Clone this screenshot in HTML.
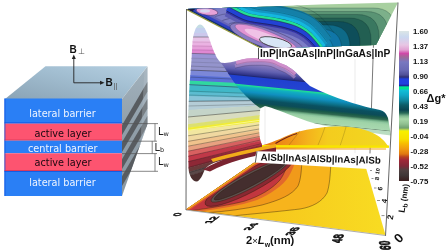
<!DOCTYPE html>
<html><head><meta charset="utf-8"><style>
html,body{margin:0;padding:0;background:#fff;width:448px;height:252px;overflow:hidden}
svg{display:block}
.lt{font-family:"DejaVu Sans","Liberation Sans",sans-serif;font-size:9.7px}
.b{font-family:"Liberation Sans",Arial,sans-serif;font-weight:bold}
</style></head><body>
<svg width="448" height="252" viewBox="0 0 448 252">
<defs>
<linearGradient id="topf" x1="0" y1="1" x2="1" y2="0">
<stop offset="0" stop-color="#8aa3b5"/><stop offset="0.6" stop-color="#a3bfd2"/><stop offset="1" stop-color="#b6d0e2"/>
</linearGradient>
<linearGradient id="sidef" x1="0" y1="0" x2="0" y2="1">
<stop offset="0" stop-color="#a2b2bd"/><stop offset="0.5" stop-color="#909ea8"/><stop offset="1" stop-color="#8a97a0"/>
</linearGradient>
<clipPath id="sideclip"><polygon points="122,99 147.5,66.5 147.5,124 122,196"/></clipPath>
</defs>
<!-- LEFT PANEL -->
<polygon points="5,99 45.5,66.3 147.5,66.3 122,99" fill="url(#topf)"/>
<polygon points="122,99 147.5,66.5 147.5,124 122,196" fill="url(#sidef)"/>
<g clip-path="url(#sideclip)"><polygon points="122,125.2 147.5,81.85 147.5,91.55 122,134.9" fill="#585c60"/><polygon points="122,142.2 147.5,98.85 147.5,108.55 122,151.9" fill="#585c60"/><polygon points="122,159.2 147.5,115.85 147.5,125.55 122,168.9" fill="#585c60"/><polygon points="122,176.2 147.5,132.85 147.5,142.55 122,185.9" fill="#585c60"/><polygon points="145,60 147.5,60 147.5,130 140,150" fill="#b8c4cc" opacity="0.35"/></g>
<rect x="4.5" y="98.5" width="117.5" height="25" fill="#2a7ff5"/>
<rect x="4.5" y="123.5" width="117.5" height="17" fill="#fd5470"/>
<rect x="4.5" y="140.5" width="117.5" height="12.8" fill="#2a7ff5"/>
<rect x="4.5" y="153.3" width="117.5" height="17.7" fill="#fd5470"/>
<rect x="4.5" y="171" width="117.5" height="25" fill="#2a7ff5"/>
<g stroke="#0a4fe0" stroke-width="0.8">
<line x1="4.5" y1="122.9" x2="122" y2="122.9"/><line x1="4.5" y1="171.4" x2="122" y2="171.4"/>
<line x1="4.9" y1="98.5" x2="4.9" y2="196"/>
</g>
<g stroke="#d03050" stroke-width="0.8" opacity="0.8">
<line x1="4.5" y1="140" x2="122" y2="140"/><line x1="4.5" y1="170.5" x2="122" y2="170.5"/>
</g>
<g class="lt" text-anchor="middle">
<text x="62.5" y="116.5" fill="#eef4ff">lateral barrier</text>
<text x="63" y="136.5" fill="#1a0810">active layer</text>
<text x="62.7" y="151.8" fill="#eef4ff">central barrier</text>
<text x="63" y="166.3" fill="#1a0810">active layer</text>
<text x="62.5" y="186.1" fill="#eef4ff">lateral barrier</text>
</g>
<!-- dimension lines -->
<g stroke="#555" stroke-width="0.7" fill="none">
<line x1="122" y1="123.6" x2="158" y2="123.6"/>
<line x1="122" y1="141.2" x2="157" y2="141.2"/>
<line x1="122" y1="153.6" x2="157" y2="153.6"/>
<line x1="122" y1="171.3" x2="158" y2="171.3"/>
<line x1="155" y1="123.6" x2="155" y2="141.2"/>
<line x1="152.2" y1="141.2" x2="152.2" y2="153.6"/>
<line x1="155" y1="153.6" x2="155" y2="171.3"/>
</g>
<g class="lt" fill="#222" font-size="9.5">
<text x="158" y="134.5">L<tspan font-size="6.5" dy="1.5">w</tspan></text>
<text x="154.6" y="150.5">L<tspan font-size="6.5" dy="1.5">b</tspan></text>
<text x="158" y="165">L<tspan font-size="6.5" dy="1.5">w</tspan></text>
</g>
<!-- B arrows -->
<g stroke="#222" stroke-width="0.9" fill="none">
<polyline points="73.8,58 73.8,82.8 101,82.8"/>
</g>
<polygon points="73.8,54.5 71.8,59 75.8,59" fill="#222"/>
<polygon points="104.5,82.8 100,80.8 100,84.8" fill="#222"/>
<text class="b" x="69.6" y="52.6" font-size="10" fill="#111">B<tspan font-size="8" font-weight="normal" fill="#555" dx="1" dy="1.5">⊥</tspan></text>
<text class="b" x="105.5" y="86.2" font-size="10" fill="#111">B<tspan font-size="7.5" font-weight="normal" fill="#555" dx="0.8" dy="2">||</tspan></text>

<!-- PLOT -->
<defs>

<linearGradient id="midG" gradientUnits="userSpaceOnUse" x1="300" y1="55" x2="292" y2="134.6"><stop offset="0.0000" stop-color="#e096cc"/><stop offset="0.0750" stop-color="#d890c8"/><stop offset="0.1250" stop-color="#b088c4"/><stop offset="0.1625" stop-color="#9080c0"/><stop offset="0.2500" stop-color="#6060b0"/><stop offset="0.3125" stop-color="#303488"/><stop offset="0.3250" stop-color="#202870"/><stop offset="0.3375" stop-color="#2040d0"/><stop offset="0.4313" stop-color="#2444d0"/><stop offset="0.4437" stop-color="#20e090"/><stop offset="0.4688" stop-color="#10b0c0"/><stop offset="0.5250" stop-color="#1090c0"/><stop offset="0.5750" stop-color="#0c7088"/><stop offset="0.6125" stop-color="#0a5060"/><stop offset="0.6500" stop-color="#0c4c58"/><stop offset="0.6750" stop-color="#1a5a48"/><stop offset="0.7000" stop-color="#306850"/><stop offset="0.7188" stop-color="#6aa880"/><stop offset="0.7375" stop-color="#90c8a0"/><stop offset="0.7625" stop-color="#a0d4a8"/><stop offset="0.8250" stop-color="#a8d8b0"/><stop offset="0.8325" stop-color="#7a9a80"/><stop offset="0.8412" stop-color="#b8dcc0"/><stop offset="1.0000" stop-color="#c0e0c4"/></linearGradient>
<linearGradient id="lowG" gradientUnits="userSpaceOnUse" x1="265" y1="0" x2="390" y2="0">
<stop offset="0" stop-color="#e87a14"/><stop offset="0.2" stop-color="#f09418"/><stop offset="0.35" stop-color="#f4b41c"/>
<stop offset="0.5" stop-color="#f4cc1e"/><stop offset="1" stop-color="#f2d820"/>
</linearGradient>
<linearGradient id="floorBase" gradientUnits="userSpaceOnUse" x1="250" y1="0" x2="385" y2="0">
<stop offset="0" stop-color="#f6c41c"/><stop offset="1" stop-color="#f8dc22"/>
</linearGradient>
<linearGradient id="cbar" x1="0" y1="0" x2="0" y2="1"><stop offset="0.0000" stop-color="#dce6e6"/><stop offset="0.0400" stop-color="#cad8f0"/><stop offset="0.0933" stop-color="#e8c6e4"/><stop offset="0.1267" stop-color="#e2a0d2"/><stop offset="0.1500" stop-color="#d048a8"/><stop offset="0.1733" stop-color="#a06898"/><stop offset="0.2067" stop-color="#7878c0"/><stop offset="0.2600" stop-color="#6a6ab4"/><stop offset="0.2933" stop-color="#505098"/><stop offset="0.3067" stop-color="#303070"/><stop offset="0.3200" stop-color="#2040e0"/><stop offset="0.3533" stop-color="#2040e0"/><stop offset="0.3633" stop-color="#1828a0"/><stop offset="0.3733" stop-color="#00e890"/><stop offset="0.3867" stop-color="#00e090"/><stop offset="0.3933" stop-color="#10c0d8"/><stop offset="0.4267" stop-color="#10a8c8"/><stop offset="0.4600" stop-color="#1088a0"/><stop offset="0.4933" stop-color="#0c5c68"/><stop offset="0.5267" stop-color="#0a4450"/><stop offset="0.5467" stop-color="#2a6a58"/><stop offset="0.5667" stop-color="#80b890"/><stop offset="0.5867" stop-color="#a8d8a8"/><stop offset="0.6200" stop-color="#90c090"/><stop offset="0.6467" stop-color="#70a070"/><stop offset="0.6600" stop-color="#c8e040"/><stop offset="0.6667" stop-color="#f8f000"/><stop offset="0.7200" stop-color="#f8e000"/><stop offset="0.7467" stop-color="#f8c000"/><stop offset="0.7867" stop-color="#f09a10"/><stop offset="0.8200" stop-color="#e07810"/><stop offset="0.8400" stop-color="#b84020"/><stop offset="0.8600" stop-color="#a02838"/><stop offset="0.9000" stop-color="#802838"/><stop offset="0.9267" stop-color="#504040"/><stop offset="0.9600" stop-color="#403838"/><stop offset="1.0000" stop-color="#3a1e1e"/></linearGradient>
<clipPath id="topClip"><polygon points="186.5,9 256,7 320,4.4 398,2.5 376,45 262,48.5"/></clipPath>
<clipPath id="floorClip"><polygon points="186,209.5 385.5,235 366,168 258,160"/></clipPath>

<clipPath id="curtClip"><path d="M192.3,45 C193,31 197,24.4 200,24.4 C203.5,24.4 206,30 209,38 C212,47 215,55 218,59.5 C220,62 222,64 224,67 C228,73 232,80 238.7,88.3 C243,93 248,98.5 253.7,103.3 C256,105.5 258.5,107 260.3,108.3 C259.6,115 259,125 259.3,133 C259.6,139 261,144 264,148 L250,152.5 L230,158 L215,162.5 C210,164.5 207,166 205,169 C203,174 200,181.5 196.5,181.5 C192.5,181.5 189,176 188.5,168 L188,120 L189.5,85 L191.5,60 Z"/></clipPath>

</defs>
<g stroke="#dedede" stroke-width="0.6"><line x1="265" y1="59" x2="265" y2="152"/><line x1="355" y1="59" x2="355" y2="165"/></g>
<line x1="373.5" y1="44" x2="369.5" y2="168" stroke="#6a6a6a" stroke-width="0.9"/>
<g clip-path="url(#floorClip)">
<rect x="180" y="150" width="210" height="90" fill="url(#floorBase)"/>
<path d="M235,215.762 C250,214 270,212.5 300,209 C312,207 322,202 327,193 C329.5,186 330.5,175 331,158 L186,158 L186,209.5 Z" fill="#f7b41c" stroke="#302010" stroke-opacity="0.7" stroke-width="0.6"/>
<path d="M208,212.612 C225,211.5 245,209 262,205 C280,200 292,195 298,186 C301,179 301.5,170 302,158 L186,158 L186,209.5 Z" fill="#f19a1a" stroke="#302010" stroke-opacity="0.7" stroke-width="0.6"/>
<path d="M199,211.461 C218,209 240,206 257,200 C270,194 283,186 289,176 C293,169 295,163 296,158 L186,158 L186,209.5 Z" fill="#e2682c" stroke="none"/>
<path d="M192,210.567 C210,208 230,205 245,201 C260,196 272,189 280,180 C285,173 287,166 289,158 L186,158 L186,209.5 Z" fill="#c2363f" stroke="#302010" stroke-opacity="0.7" stroke-width="0.6"/>
<ellipse cx="249.5" cy="181" rx="50" ry="11" fill="#8a2832" stroke="#302010" stroke-opacity="0.7" stroke-width="0.6" transform="rotate(-28 249.5 181)"/>
<ellipse cx="250" cy="180.5" rx="44" ry="7.6" fill="#5e5050" stroke="#302010" stroke-opacity="0.7" stroke-width="0.6" transform="rotate(-28 250 180.5)"/>
<ellipse cx="250.5" cy="180.2" rx="41" ry="5.6" fill="#442e2e" stroke="#302010" stroke-opacity="0.7" stroke-width="0.6" transform="rotate(-28 250.5 180.2)"/>
<line x1="186" y1="211" x2="258" y2="162" stroke="#e05a2c" stroke-width="2.4"/>
<line x1="186" y1="209.8" x2="258" y2="160.8" stroke="#eeb020" stroke-width="1.8"/>
<line x1="186" y1="208.7" x2="258" y2="159.7" stroke="#a89020" stroke-width="0.9"/>
</g>
<g clip-path="url(#topClip)">
<rect x="180" y="0" width="225" height="55" fill="#a8d0a0"/>
<path d="M180,2 L225,2 C260,2 280,8 310,8 L373,8 Q395,8 395,30 L395,60 L180,60 Z" fill="#7cb08a" stroke="#0a2420" stroke-opacity="0.4" stroke-width="0.6"/>
<path d="M180,2.5 L225,2.5 C260,2.5 280,11.5 310,11.5 L366,11.5 Q388,11.5 388,33.5 L388,60 L180,60 Z" fill="#5a9474" stroke="#0a2420" stroke-opacity="0.4" stroke-width="0.6"/>
<path d="M180,3 L225,3 C260,3 280,14.5 310,14.5 L357,14.5 Q379,14.5 379,36.5 L379,60 L180,60 Z" fill="#3a7860" stroke="#0a2420" stroke-opacity="0.4" stroke-width="0.6"/>
<path d="M180,3.5 L225,3.5 C260,3.5 280,18 310,18 L349,18 Q371,18 371,40 L371,60 L180,60 Z" fill="#225f52" stroke="#0a2420" stroke-opacity="0.4" stroke-width="0.6"/>
<path d="M180,4.5 L225,4.5 C260,4.5 280,21.5 310,21.5 L338,21.5 Q360,21.5 360,43.5 L360,60 L180,60 Z" fill="#0e4e5a" stroke="#0a2420" stroke-opacity="0.4" stroke-width="0.6"/>
<path d="M180,6 L225,6 C260,6 280,25 310,25 L328,25 Q350,25 350,47 L350,60 L180,60 Z" fill="#0e6a88" stroke="#0a2420" stroke-opacity="0.4" stroke-width="0.6"/>
<path d="M180,7.5 L225,7.5 C260,7.5 280,29 310,29 L320,29 Q342,29 342,51 L342,60 L180,60 Z" fill="#1076a8" stroke="#0a2420" stroke-opacity="0.4" stroke-width="0.6"/>
<path d="M180,9 L225,9 C260,9 280,33 310,33 L312,33 Q334,33 334,55 L334,60 L180,60 Z" fill="#1284b4" stroke="#0a2420" stroke-opacity="0.4" stroke-width="0.6"/>
<path d="M180,0 L228,5 C236,8.5 242,13.5 252,15.5 C262,17.5 275,18 290,22.6 C300,25.5 306,29.5 311,34.4 C315,38.5 319,43.5 323,49 L330,54 L262,52 L186,9 Z" fill="#7c7cc6"/>
<ellipse cx="270" cy="40" rx="46" ry="13.5" fill="none" stroke="#202040" stroke-opacity="0.5" stroke-width="0.7" transform="rotate(16 270 40)"/>
<ellipse cx="270" cy="40" rx="54" ry="17" fill="none" stroke="#202040" stroke-opacity="0.45" stroke-width="0.7" transform="rotate(16 270 40)"/>
<ellipse cx="270" cy="40" rx="63" ry="21" fill="none" stroke="#202040" stroke-opacity="0.4" stroke-width="0.7" transform="rotate(16 270 40)"/>
<line x1="186" y1="15.5" x2="262" y2="54.5" stroke="#202040" stroke-opacity="0.45" stroke-width="0.7"/>
<path d="M228,5 C236,8.5 242,13.5 252,15.5 C262,17.5 275,18 290,22.6 C300,25.5 306,29.5 311,34.4 C315,38.5 319,43.5 323,49" fill="none" stroke="#1480a8" stroke-width="8" transform="translate(6,-9)"/>
<path d="M228,5 C236,8.5 242,13.5 252,15.5 C262,17.5 275,18 290,22.6 C300,25.5 306,29.5 311,34.4 C315,38.5 319,43.5 323,49" fill="none" stroke="#1496c4" stroke-width="5" transform="translate(3.5,-5)"/>
<path d="M228,5 C236,8.5 242,13.5 252,15.5 C262,17.5 275,18 290,22.6 C300,25.5 306,29.5 311,34.4 C315,38.5 319,43.5 323,49" fill="none" stroke="#14b8e0" stroke-width="3" transform="translate(1.6,-2.6)"/>
<path d="M228,5 C236,8.5 242,13.5 252,15.5 C262,17.5 275,18 290,22.6 C300,25.5 306,29.5 311,34.4 C315,38.5 319,43.5 323,49" fill="none" stroke="#0a2a30" stroke-opacity="0.5" stroke-width="0.6" transform="translate(4.5,-6.5)"/>
<path d="M228,5 C236,8.5 242,13.5 252,15.5 C262,17.5 275,18 290,22.6 C300,25.5 306,29.5 311,34.4 C315,38.5 319,43.5 323,49" fill="none" stroke="#0a2a30" stroke-opacity="0.45" stroke-width="0.6" transform="translate(8,-11.5)"/>
<path d="M228,5 C236,8.5 242,13.5 252,15.5 C262,17.5 275,18 290,22.6 C300,25.5 306,29.5 311,34.4 C315,38.5 319,43.5 323,49" fill="none" stroke="#0a2a30" stroke-opacity="0.4" stroke-width="0.6" transform="translate(11,-16)"/>
<path d="M228,5 C236,8.5 242,13.5 252,15.5 C262,17.5 275,18 290,22.6 C300,25.5 306,29.5 311,34.4 C315,38.5 319,43.5 323,49" fill="none" stroke="#5a5ab4" stroke-width="4" transform="translate(-2.5,9.5)"/>
<path d="M228,5 C236,8.5 242,13.5 252,15.5 C262,17.5 275,18 290,22.6 C300,25.5 306,29.5 311,34.4 C315,38.5 319,43.5 323,49" fill="none" stroke="#3434a8" stroke-width="3" transform="translate(-1.5,6.5)"/>
<path d="M228,5 C236,8.5 242,13.5 252,15.5 C262,17.5 275,18 290,22.6 C300,25.5 306,29.5 311,34.4 C315,38.5 319,43.5 323,49" fill="none" stroke="#2242d4" stroke-width="4.6" transform="translate(-1,3.6)"/>
<path d="M228,5 C236,8.5 242,13.5 252,15.5 C262,17.5 275,18 290,22.6 C300,25.5 306,29.5 311,34.4 C315,38.5 319,43.5 323,49" fill="none" stroke="#1a2060" stroke-width="0.8" transform="translate(-1.3,6.2)"/>
<path d="M228,5 C236,8.5 242,13.5 252,15.5 C262,17.5 275,18 290,22.6 C300,25.5 306,29.5 311,34.4 C315,38.5 319,43.5 323,49" fill="none" stroke="#22e094" stroke-width="2.6"/>
<path d="M228,5 C236,8.5 242,13.5 252,15.5 C262,17.5 275,18 290,22.6 C300,25.5 306,29.5 311,34.4 C315,38.5 319,43.5 323,49" fill="none" stroke="#183040" stroke-width="0.6" transform="translate(-0.3,1.5)"/>
<line x1="186" y1="3.4" x2="262" y2="42.6" stroke="#6464b8" stroke-width="2.6" />
<line x1="186" y1="6.0" x2="262" y2="45.2" stroke="#3040c4" stroke-width="3"/>
<line x1="186" y1="8.4" x2="262" y2="47.6" stroke="#10306a" stroke-width="1.8"/>
<ellipse cx="267" cy="38.5" rx="39" ry="9.5" fill="#8a7cc4" stroke="#302848" stroke-opacity="0.6" stroke-width="0.6" transform="rotate(19 267 38.5)"/>
<ellipse cx="266" cy="37.5" rx="33" ry="6.5" fill="#e094d2" stroke="#402850" stroke-opacity="0.4" stroke-width="0.5" transform="rotate(21 266 37.5)"/>
<ellipse cx="268" cy="38.5" rx="25" ry="4.4" fill="#f0c2e6" transform="rotate(21 268 38.5)"/>
<ellipse cx="275.5" cy="42.6" rx="16.5" ry="4.8" fill="#d8e6f6" stroke="#222" stroke-width="0.7" transform="rotate(13 275.5 42.6)"/>
<ellipse cx="207" cy="11.5" rx="11" ry="3.6" fill="#e6a2d8" stroke="#403060" stroke-width="0.5" transform="rotate(8 207 11.5)"/>
<ellipse cx="205" cy="11" rx="5" ry="1.7" fill="#d8d8f0"/>
<polygon points="186,9 196,8.6 192,11.5" fill="#1a1a40"/>
</g>
<line x1="186.5" y1="9.5" x2="262" y2="48.7" stroke="#9a9a38" stroke-width="1.1"/>
<path d="M218,62 C224,63.5 228,63 233,61.8 C240,59.8 246,58.3 251,58.2 C258,58 262,58 265,58.2 C271,58.6 275,60 278,62 C282,63.8 284,64.5 286.4,65.6 C290,67.8 293,69.8 296,72.5 C301,77 305,82 310,86 C322,92 335,97.5 348,101.5 C360,105.5 372,108.5 380,110 C384,111 386,113 388,118 L391,135.5 C380,134 370,132.5 360,131.2 C340,128.5 320,126.5 300,118.5 C285,113 272,107.5 265,106 L259,109 L230,105 Z" fill="url(#midG)"/>
<clipPath id="midClip"><path d="M218,62 C224,63.5 228,63 233,61.8 C240,59.8 246,58.3 251,58.2 C258,58 262,58 265,58.2 C271,58.6 275,60 278,62 C282,63.8 284,64.5 286.4,65.6 C290,67.8 293,69.8 296,72.5 C301,77 305,82 310,86 C322,92 335,97.5 348,101.5 C360,105.5 372,108.5 380,110 C384,111 386,113 388,118 L391,135.5 C380,134 370,132.5 360,131.2 C340,128.5 320,126.5 300,118.5 C285,113 272,107.5 265,106 L259,109 L230,105 Z"/></clipPath>
<g clip-path="url(#midClip)" fill="none">
<path d="M236,61 C242,59.5 246,58.3 251,58.2 C258,58 262,58 265,58.2 C271,58.6 275,60 278,62 C282,63.8 284,64.5 286.4,65.6 C290,67.8 293,69.8 296,72.5" stroke="#a88ac8" stroke-width="4" stroke-opacity="0.7" transform="translate(-1,5)"/>
<path d="M236,61 C242,59.5 246,58.3 251,58.2 C258,58 262,58 265,58.2 C271,58.6 275,60 278,62 C282,63.8 284,64.5 286.4,65.6 C290,67.8 293,69.8 296,72.5" stroke="#d892cc" stroke-width="6" stroke-opacity="0.85" transform="translate(0,1)"/>
<path d="M236,61 C242,59.5 246,58.3 251,58.2 C258,58 262,58 265,58.2 C271,58.6 275,60 278,62 C282,63.8 284,64.5 286.4,65.6 C290,67.8 293,69.8 296,72.5" stroke="#302850" stroke-opacity="0.45" stroke-width="0.6" transform="translate(-1,7.2)"/>
<path d="M236,61 C242,59.5 246,58.3 251,58.2 C258,58 262,58 265,58.2 C271,58.6 275,60 278,62 C282,63.8 284,64.5 286.4,65.6 C290,67.8 293,69.8 296,72.5" stroke="#302850" stroke-opacity="0.35" stroke-width="0.6" transform="translate(0,3.6)"/>
</g>
<g clip-path="url(#curtClip)">
<polygon points="186,0 267,0 267,28.6 186,28.6" fill="#c4dce4"/><polygon points="186,28 267,28 267,33.6 186,33.6" fill="#c4d0ee"/><polygon points="186,33 267,33 267,37.6 186,37.6" fill="#ccc8ec"/><polygon points="186,37 267,37 267,42.6 186,41.6" fill="#e8c4e8"/><polygon points="186,41 267,42 267,47.1 186,45.6" fill="#eab2e2"/><polygon points="186,45 267,46.5 267,51.1 186,49.6" fill="#e6a0da"/><polygon points="186,49 267,50.5 267,56.1 186,53.9" fill="#e088d2"/><polygon points="186,53.3 267,55.5 267,61.1 186,58.6" fill="#9a94d4"/><polygon points="186,58 267,60.5 267,74.6 186,70.6" fill="#9494cc"/><polygon points="186,70 267,74 267,80.1 186,75.6" fill="#7c88d8"/><polygon points="186,75 267,79.5 267,85.1 186,81.1" fill="#5a70d8"/><polygon points="186,80.5 267,84.5 267,88.6 186,84.6" fill="#30d8a0"/><polygon points="186,84 267,88 267,94.6 186,92.6" fill="#40b8c8"/><polygon points="186,92 267,94 267,98.6 186,96.6" fill="#5cbcd0"/><polygon points="186,96 267,98 267,101.1 186,101.9" fill="#88c4d8"/><polygon points="186,101.3 267,100.5 267,105.6 186,110.6" fill="#b4ccd6"/><polygon points="186,110 267,105 267,110.6 186,117.6" fill="#c4d4c8"/><polygon points="186,117 267,110 267,114.6 186,125.1" fill="#d8dcc0"/><polygon points="186,124.5 267,114 267,118.6 186,128.6" fill="#dce070"/><polygon points="186,128 267,118 267,121.6 186,131.6" fill="#f0ec30"/><polygon points="186,131 267,121 267,125.6 186,136.6" fill="#f2e6a0"/><polygon points="186,136 267,125 267,129.6 186,142" fill="#f0d8a0"/><polygon points="186,141.4 267,129 267,133.1 186,147.1" fill="#f0c28c"/><polygon points="186,146.5 267,132.5 267,136.6 186,152.1" fill="#e8a080"/><polygon points="186,151.5 267,136 267,140.1 186,157.1" fill="#d86060"/><polygon points="186,156.5 267,139.5 267,144.1 186,162.6" fill="#c03848"/><polygon points="186,162 267,143.5 267,147.6 186,169.1" fill="#8e2836"/><polygon points="186,168.5 267,147 267,150.6 186,173.1" fill="#6a3a3a"/><polygon points="186,172.5 267,150 267,152.6 186,177.1" fill="#5a4848"/><polygon points="186,176.5 267,152 267,200.6 186,200.6" fill="#4a2e2e"/>
<line x1="188" y1="37" x2="265" y2="37" stroke="#202020" stroke-opacity="0.5" stroke-width="0.8"/>
<line x1="188" y1="42" x2="265" y2="43" stroke="#202020" stroke-opacity="0.12" stroke-width="0.8"/>
<line x1="188" y1="46" x2="265" y2="47.5" stroke="#202020" stroke-opacity="0.12" stroke-width="0.8"/>
<line x1="188" y1="50" x2="265" y2="51.5" stroke="#202020" stroke-opacity="0.12" stroke-width="0.8"/>
<line x1="188" y1="53.3" x2="265" y2="55.5" stroke="#202020" stroke-opacity="0.45" stroke-width="0.8"/>
<line x1="188" y1="58" x2="265" y2="60.5" stroke="#202020" stroke-opacity="0.15" stroke-width="0.8"/>
<line x1="188" y1="62" x2="265" y2="64.5" stroke="#202020" stroke-opacity="0.15" stroke-width="0.8"/>
<line x1="188" y1="66" x2="265" y2="69" stroke="#202020" stroke-opacity="0.25" stroke-width="0.8"/>
<line x1="188" y1="70" x2="265" y2="73" stroke="#202020" stroke-opacity="0.6" stroke-width="0.8"/>
<line x1="188" y1="77" x2="265" y2="80.5" stroke="#202020" stroke-opacity="0.35" stroke-width="0.8"/>
<line x1="188" y1="91" x2="265" y2="94" stroke="#202020" stroke-opacity="0.3" stroke-width="0.8"/>
<line x1="188" y1="95" x2="265" y2="97.5" stroke="#202020" stroke-opacity="0.3" stroke-width="0.8"/>
<line x1="188" y1="106" x2="265" y2="104" stroke="#202020" stroke-opacity="0.3" stroke-width="0.8"/>
<line x1="188" y1="84.6" x2="265" y2="88.5" stroke="#202020" stroke-opacity="0.55" stroke-width="0.8"/>
<line x1="188" y1="101.3" x2="265" y2="100.5" stroke="#202020" stroke-opacity="0.6" stroke-width="0.8"/>
<line x1="188" y1="117" x2="265" y2="110" stroke="#202020" stroke-opacity="0.55" stroke-width="0.8"/>
<line x1="188" y1="135.8" x2="265" y2="124" stroke="#202020" stroke-opacity="0.45" stroke-width="0.8"/>
<line x1="188" y1="141.4" x2="265" y2="128" stroke="#202020" stroke-opacity="0.45" stroke-width="0.8"/>
<line x1="188" y1="146.2" x2="265" y2="131.8" stroke="#202020" stroke-opacity="0.45" stroke-width="0.8"/>
<line x1="188" y1="151.2" x2="265" y2="135.4" stroke="#202020" stroke-opacity="0.45" stroke-width="0.8"/>
<line x1="188" y1="156.3" x2="265" y2="139" stroke="#202020" stroke-opacity="0.45" stroke-width="0.8"/>
<line x1="188" y1="161.7" x2="265" y2="142.8" stroke="#202020" stroke-opacity="0.45" stroke-width="0.8"/>
<line x1="188" y1="167.5" x2="265" y2="146.3" stroke="#202020" stroke-opacity="0.4" stroke-width="0.8"/>
<line x1="188" y1="173" x2="265" y2="149.5" stroke="#202020" stroke-opacity="0.4" stroke-width="0.8"/>
<line x1="186" y1="130.6" x2="265" y2="119.6" stroke="#ffffc0" stroke-width="0.8" stroke-opacity="0.8"/>
</g>
<path d="M263,145 C275,142 285,136 297,132 C310,128.5 322,127 335,126.5 C350,126.5 362,128 372,132.5 C380,136 385,141 389,147.5 L262,149 Z" fill="url(#lowG)"/>
<path d="M275.5,143.5 C283,139 290,135.5 297,133.5" stroke="#6a1c1c" stroke-width="1.2" fill="none"/>
<g stroke="#403010" stroke-opacity="0.35" stroke-width="0.6" fill="none"><path d="M289,145 C293,140 296,136 300,131"/><path d="M318,145 C321,138 323,133 325,127"/><path d="M340,146 C342,140 344,134 346,127"/></g>
<path d="M262,146.2 L389,146.6" stroke="#f8e400" stroke-width="2.4"/>
<path d="M262,148.8 L386,149" stroke="#f0a020" stroke-width="1.2"/>
<path d="M203,169.5 C220,159 245,151.5 276,145 L276,152 C250,156 228,162 210,171.5 Z" fill="#7a2430"/>
<path d="M211,159 C230,153.5 250,149 276,144 L276,147.6 C250,152.5 232,157 213,162 Z" fill="#f2ac1a"/>
<g stroke="#555" stroke-width="0.9"><line x1="186.5" y1="9" x2="186" y2="210"/><line x1="398" y1="2.5" x2="385.5" y2="236"/></g>
<line x1="186" y1="210" x2="385.5" y2="235.5" stroke="#8a8a8a" stroke-width="0.7"/>
<rect x="258.5" y="47.8" width="134" height="11.2" fill="#fff"/>
<line x1="258.5" y1="48" x2="258.5" y2="59" stroke="#222" stroke-width="0.8"/>
<text class="b" x="260" y="56.8" font-size="10.2" fill="#111">InP|InGaAs|InP|InGaAs|InP</text>
<polygon points="256.5,151.2 386,153.8 386,170 254,162.5" fill="#fff"/>
<line x1="257" y1="151.5" x2="255.3" y2="162.8" stroke="#333" stroke-width="0.8"/>
<text class="b" x="260.5" y="160.4" font-size="9.8" fill="#111" transform="rotate(1.6 260 160)">AlSb|InAs|AlSb|InAs|AlSb</text>
<rect x="399" y="31" width="10" height="150" fill="url(#cbar)"/>
<g class="b" font-size="7.8" fill="#111">
<text x="413" y="34">1.60</text>
<text x="413" y="49">1.37</text>
<text x="413" y="64">1.13</text>
<text x="413" y="79">0.90</text>
<text x="413" y="94">0.66</text>
<text x="413" y="109">0.43</text>
<text x="413" y="124">0.19</text>
<text x="410.5" y="139">-0.04</text>
<text x="410.5" y="154">-0.28</text>
<text x="410.5" y="169">-0.52</text>
<text x="410.5" y="184">-0.75</text>
</g>
<text class="b" x="426.5" y="102" font-size="11" fill="#111">Δg*</text>
<g class="b" fill="#111" font-size="10.5" stroke="#111" stroke-width="0.6">
<text transform="matrix(0.35,-0.6,1,0,177.5,214.4)" text-anchor="middle" dominant-baseline="central">0</text>
<text transform="matrix(0.78,-0.62,1,0,211.8,220)" text-anchor="middle" dominant-baseline="central">12</text>
<text transform="matrix(0.8,-0.6,1,0,250.5,226.8)" text-anchor="middle" dominant-baseline="central">24</text>
<text transform="matrix(0.7,-0.7,1.1,0,292.3,231.3)" text-anchor="middle" dominant-baseline="central">36</text>
<text transform="matrix(0.25,-0.75,1.3,0,337.6,238.6)" text-anchor="middle" dominant-baseline="central">48</text>
<text transform="matrix(-0.15,-0.8,1.45,0,385.2,245.3)" text-anchor="middle" dominant-baseline="central">60</text>
</g>
<text class="b" x="246" y="244.2" font-size="11.2" fill="#111">2<tspan font-weight="normal" font-size="9.5">×</tspan><tspan font-style="italic">L</tspan><tspan font-size="7" dy="3">w</tspan><tspan dy="-3">(nm)</tspan></text>
<text class="b" font-size="13" fill="#111" text-anchor="middle" dominant-baseline="central" transform="translate(398.7,238.1) rotate(-45)">0</text>
<g class="b" fill="#111">
<text transform="translate(391,217.2) rotate(-80)" font-size="8.5" text-anchor="middle" dominant-baseline="middle">2</text>
<text transform="translate(385,201) rotate(-80)" font-size="7.5" text-anchor="middle" dominant-baseline="middle">4</text>
<text transform="translate(380.7,188.7) rotate(-80)" font-size="6.5" text-anchor="middle" dominant-baseline="middle">6</text>
<text transform="translate(377.5,178.6) rotate(-80)" font-size="6" text-anchor="middle" dominant-baseline="middle">8</text>
<text transform="translate(378,171.2) rotate(-80)" font-size="5.5" text-anchor="middle" dominant-baseline="middle">10</text>
</g>
<g stroke="#444" stroke-width="0.6"><line x1="381.5" y1="215.6" x2="384.5" y2="215.6"/><line x1="377" y1="200.5" x2="380" y2="200.5"/><line x1="374" y1="188" x2="376.5" y2="188"/><line x1="371.5" y1="178.5" x2="373.5" y2="178.5"/><line x1="370" y1="170.5" x2="372" y2="170.5"/></g>
<text class="b" transform="translate(404.5,213) rotate(-82)" font-size="9" fill="#111">L<tspan font-size="6.5" dy="2">b</tspan><tspan dy="-2" font-size="8"> (nm)</tspan></text>
</svg>
</body></html>
